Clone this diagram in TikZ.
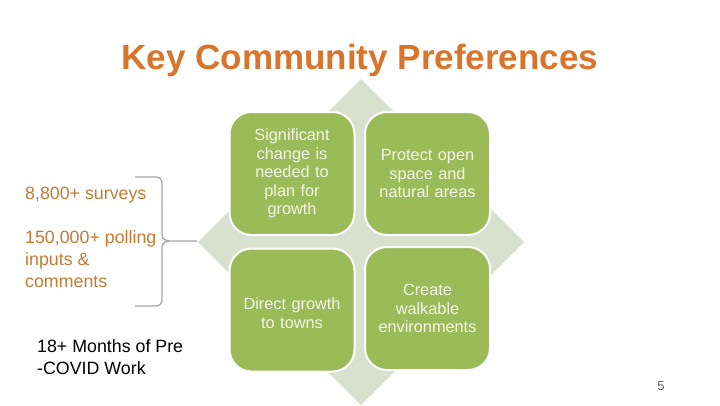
\documentclass[tikz,border=0pt]{standalone}
\usepackage{fontspec}
\setmainfont{Liberation Sans}
\definecolor{ttl}{HTML}{D9742A}
\definecolor{lft}{HTML}{C47A35}
\definecolor{boxg}{HTML}{9BBB59}
\definecolor{dia}{HTML}{D8E0CE}
\definecolor{btxt}{HTML}{F4F4E8}
\begin{document}
\begin{tikzpicture}[x=1pt,y=-1pt,
  pbox/.style={draw=white,line width=2pt,fill=boxg,rounded corners=22pt,minimum width=125pt,minimum height=123pt,
    text=btxt,align=center,font=\fontsize{16.3}{18.5}\selectfont,text width=120pt,inner sep=0pt},
  ltxt/.style={text=lft,anchor=north west,align=left,font=\fontsize{17.8}{22}\selectfont,inner sep=0pt}]
\useasboundingbox (0,0) rectangle (720,405);
\node[text=ttl,font=\bfseries\fontsize{35}{40}\selectfont] (title) at (360,60) {Key Community Preferences};
\fill[dia] (361,79) -- (524,242) -- (361,405) -- (198,242) -- cycle;
\node[pbox] (b1) at (292,173.5) {Significant\\change is\\needed to\\plan for\\growth};
\node[pbox] (b2) at (427.5,173.5) {Protect open\\space and\\natural areas};
\node[pbox] (b3) at (292,310) {\\Direct growth\\to towns};
\node[pbox] (b4) at (427.5,308.5) {Create\\walkable\\environments};
\node[ltxt] (t1) at (25,187) {8,800+ surveys};
\node[ltxt] (t2) at (25,230) {150,000+ polling\\inputs \&\\comments};
\node[ltxt,text=black] (t3) at (37,339) {18+ Months of Pre\\-COVID Work};
\node[text=gray!80!black,font=\fontsize{13}{15}\selectfont] (pg) at (661,386) {5};
\draw[gray!70,line width=1.3pt] (135,177) -- (156,177) to[out=0,in=90] (162,183) -- (162,235) to[out=-90,in=180] (170,241) -- (197,241)
  (170,241) to[out=180,in=90] (162,247) -- (162,300) to[out=-90,in=0] (156,306) -- (135,306);
\end{tikzpicture}
\end{document}
